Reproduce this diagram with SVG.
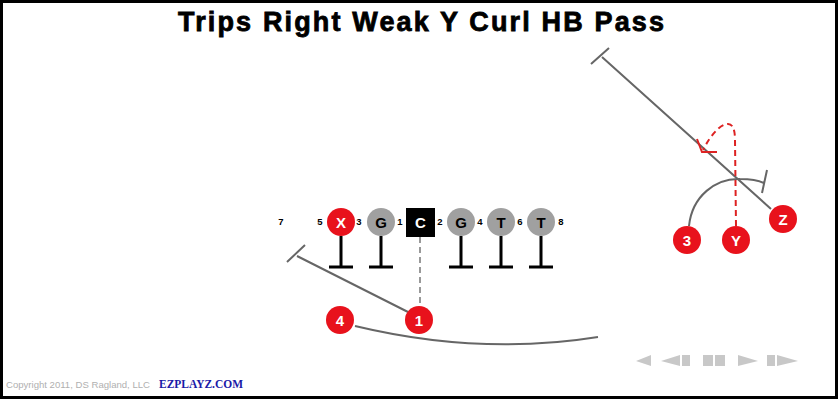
<svg xmlns="http://www.w3.org/2000/svg" width="838" height="400" viewBox="0 0 838 400">
<style>
.off{fill:#e8121c}
.ol{fill:#a0a0a0}
.lbl{font-family:"Liberation Sans",Arial,sans-serif;font-weight:bold;font-size:15px;text-anchor:middle}
.w{fill:#fff}
.k{fill:#000}
.num{font-family:"Liberation Sans",Arial,sans-serif;font-weight:bold;font-size:9.5px;text-anchor:middle;fill:#000}
.blk{stroke:#000;stroke-width:3;fill:none}
.route{stroke:#666;stroke-width:2;fill:none}
.ctl{fill:#c8c8c8}
</style>
<rect x="0" y="0" width="838" height="400" fill="#fff"/>
<rect x="1.5" y="1.5" width="835" height="396" fill="none" stroke="#000" stroke-width="3"/>
<text x="421" y="31" font-family="'Liberation Sans',Arial,sans-serif" font-weight="bold" font-size="27" stroke="#000" stroke-width="0.8" text-anchor="middle" textLength="486" lengthAdjust="spacing">Trips Right Weak Y Curl HB Pass</text>

<g id="connectors">
  <path class="blk" d="M341,236V267M329,267H353"/>
  <path class="blk" d="M381,236V267M369,267H393"/>
  <path class="blk" d="M461,236V267M449,267H473"/>
  <path class="blk" d="M501,236V267M489,267H513"/>
  <path class="blk" d="M541,236V267M529,267H553"/>
  <path d="M420,237V306" stroke="#999" stroke-width="2" stroke-dasharray="6,4" fill="none"/>
  <path class="route" d="M408,312L297,256M287,262L305,245"/>
  <path class="route" d="M355,326Q480,356 598,337"/>
  <path class="route" d="M771,209L602,57M591,64L609,48"/>
  <path class="route" d="M689,226C692,196 716,178 740,179C752,179 760,181 764,183M767,170L762,193"/>
  <path d="M736,226L735,140C735,128 732,124 728,124C721,124 711,134 703,150" stroke="#dd2222" stroke-width="2" stroke-dasharray="6,4" fill="none"/>
  <path d="M697,139L702,152L717,152" stroke="#dd2222" stroke-width="2" fill="none"/>
</g>

<text class="num" x="281" y="225">7</text>
<text class="num" x="320" y="225">5</text>
<text class="num" x="359" y="225">3</text>
<text class="num" x="400" y="225">1</text>
<text class="num" x="440" y="225">2</text>
<text class="num" x="480" y="225">4</text>
<text class="num" x="520" y="225">6</text>
<text class="num" x="561" y="225">8</text>

<g id="X"><circle class="off" cx="341" cy="222" r="14"/><text class="lbl w" x="341" y="227.5">X</text></g>
<g id="LG"><circle class="ol" cx="381" cy="222" r="14"/><text class="lbl k" x="381" y="227.5">G</text></g>
<g id="C"><rect x="406" y="208" width="29" height="29" fill="#000"/><text class="lbl w" x="420.5" y="227.5">C</text></g>
<g id="RG"><circle class="ol" cx="461" cy="222" r="14"/><text class="lbl k" x="461" y="227.5">G</text></g>
<g id="LT"><circle class="ol" cx="501" cy="222" r="14"/><text class="lbl k" x="501" y="227.5">T</text></g>
<g id="RT"><circle class="ol" cx="541" cy="222" r="14"/><text class="lbl k" x="541" y="227.5">T</text></g>
<g id="n1"><circle class="off" cx="419" cy="320" r="14"/><text class="lbl w" x="419" y="325.5">1</text></g>
<g id="n4"><circle class="off" cx="340" cy="320" r="14"/><text class="lbl w" x="340" y="325.5">4</text></g>
<g id="n3"><circle class="off" cx="687" cy="240" r="14"/><text class="lbl w" x="687" y="245.5">3</text></g>
<g id="Y"><circle class="off" cx="736" cy="240" r="14"/><text class="lbl w" x="736" y="245.5">Y</text></g>
<g id="Z"><circle class="off" cx="783" cy="219" r="14"/><text class="lbl w" x="783" y="224.5">Z</text></g>

<text x="6" y="388" font-family="'Liberation Sans',Arial,sans-serif" font-size="9.6" fill="#b0b0b0" textLength="144" lengthAdjust="spacingAndGlyphs">Copyright 2011, DS Ragland, LLC</text>
<text x="159" y="388" font-family="'Liberation Serif','Times New Roman',serif" font-weight="bold" font-size="12.5" fill="#1a1aa8" textLength="84" lengthAdjust="spacingAndGlyphs">EZPLAYZ.COM</text>

<g id="controls">
  <polygon class="ctl" points="636,361 651,355 651,366"/>
  <polygon class="ctl" points="661,361 680,355 680,366"/>
  <rect class="ctl" x="682" y="355" width="8" height="11"/>
  <rect class="ctl" x="703" y="355" width="10" height="11"/>
  <rect class="ctl" x="715" y="355" width="10" height="11"/>
  <polygon class="ctl" points="738,355 758,361 738,366"/>
  <rect class="ctl" x="767" y="355" width="8" height="11"/>
  <polygon class="ctl" points="777,355 798,361 777,366"/>
</g>
</svg>
